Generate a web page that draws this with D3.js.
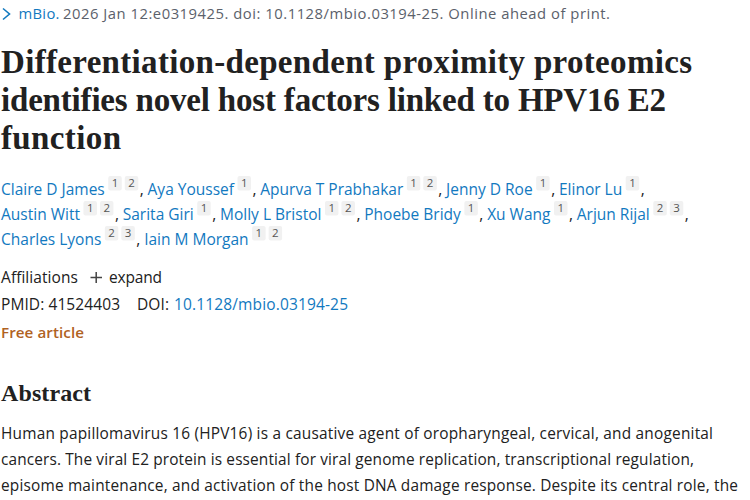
<!DOCTYPE html>
<html><head><meta charset="utf-8">
<script src="https://cdn.jsdelivr.net/npm/d3@7"></script>
<style>html,body{margin:0;padding:0;background:#fff;overflow:hidden}svg{display:block}</style>
</head><body><script>
const citationJournal = "mBio.";
const citationRest = "2026 Jan 12:e0319425. doi: 10.1128/mbio.03194-25. Online ahead of print.";
const titleLines = ["Differentiation-dependent proximity proteomics","identifies novel host factors linked to HPV16 E2","function"];
const authorRows = [
 [["Claire D James",[1,2]],["Aya Youssef",[1]],["Apurva T Prabhakar",[1,2]],["Jenny D Roe",[1]],["Elinor Lu",[1]]],
 [["Austin Witt",[1,2]],["Sarita Giri",[1]],["Molly L Bristol",[1,2]],["Phoebe Bridy",[1]],["Xu Wang",[1]],["Arjun Rijal",[2,3]]],
 [["Charles Lyons",[2,3]],["Iain M Morgan",[1,2]]]
];
const pmidText = "PMID: 41524403";
const doiLabel = "DOI:";
const doiValue = "10.1128/mbio.03194-25";
const abstractHeading = "Abstract";
const abstractLines = [
 "Human papillomavirus 16 (HPV16) is a causative agent of oropharyngeal, cervical, and anogenital",
 "cancers. The viral E2 protein is essential for viral genome replication, transcriptional regulation,",
 "episome maintenance, and activation of the host DNA damage response. Despite its central role, the"
];
const W=750,H=500;
const SANS="'Open Sans','Noto Sans',sans-serif", SERIF="'Liberation Serif',serif";
const LINK="#1279bf",DARK="#212121",GRAY="#5b616b",ORANGE="#b0621f";
const svg=d3.select("body").append("svg").attr("width",W).attr("height",H).attr("viewBox",[0,0,W,H]);
svg.append("rect").attr("width",W).attr("height",H).attr("fill","#fff");
function t(x,y,s,o={}){
  const e=svg.append("text").attr("x",x).attr("y",y).text(s)
   .attr("font-family",o.family||SANS).attr("font-size",o.size||15).attr("fill",o.fill||DARK)
   .attr("font-weight",o.weight||400).style("white-space","pre");
  if(o.width){e.attr("textLength",o.width).attr("lengthAdjust","spacing");}
  return e;
}
function len(e){return e.node().getComputedTextLength();}
// citation
svg.append("path").attr("d",d3.line()([[3,8.5],[9.5,14],[3,19.5]])).attr("fill","none").attr("stroke",LINK).attr("stroke-width",1.6);
t(18.5,19,citationJournal,{fill:LINK,size:14.8,width:41});
t(63,19,citationRest,{fill:GRAY,size:14.8,width:547});
// title
const titleY=d3.scaleLinear().domain([0,1]).range([72.5,110.5]);
const titleW=[691,665,120];
svg.selectAll("text.title").data(titleLines).join("text").attr("class","title")
 .attr("x",1).attr("y",(d,i)=>titleY(i)).text(d=>d)
 .attr("font-family",SERIF).attr("font-weight",700).attr("font-size",33).attr("fill",DARK)
 .attr("textLength",(d,i)=>titleW[i]).attr("lengthAdjust","spacing");
// authors
const authorY=d3.scaleLinear().domain([0,1]).range([195,220]);
authorRows.forEach((row,r)=>{
  let x=1;const y=authorY(r);
  row.forEach((a,i)=>{
    const n=t(x,y,a[0],{fill:LINK,size:15.5});
    x+=len(n)+3.5;
    a[1].forEach(s=>{
      svg.append("rect").attr("x",x).attr("y",y-19).attr("width",13.5).attr("height",14.5).attr("rx",2).attr("fill","#f1f1f1");
      t(x+6.75,y-8,s,{fill:"#555",size:11.5}).attr("text-anchor","middle");
      x+=16.5;
    });
    if(i<row.length-1||r<2){ t(x-1.5,y,",",{fill:DARK,size:15.5}); x+=6.3; }
  });
});
// affiliations
t(1,283,"Affiliations",{size:15.5,width:77});
svg.append("path").attr("d","M90.5 277.5H102M96.2 272V283").attr("stroke","#444").attr("stroke-width",1.5).attr("fill","none");
t(109,283,"expand",{size:15.5,width:53});
t(1,310,pmidText,{size:15.5,width:119});
t(137,310,doiLabel,{size:15.5,width:32});
t(174,310,doiValue,{fill:LINK,size:15.5,width:174});
t(1,338,"Free article",{fill:ORANGE,size:15.2,weight:600,width:83});
t(1,401,abstractHeading,{family:SERIF,size:24,weight:700,width:90});
const bodyY=d3.scaleLinear().domain([0,1]).range([438.5,464.5]);
const bodyW=[712,693,737];
svg.selectAll("text.body").data(abstractLines).join("text").attr("class","body")
 .attr("x",1).attr("y",(d,i)=>bodyY(i)).text(d=>d)
 .attr("font-family",SANS).attr("font-size",15.4).attr("fill",DARK)
 .attr("textLength",(d,i)=>bodyW[i]).attr("lengthAdjust","spacing");
</script></body></html>
